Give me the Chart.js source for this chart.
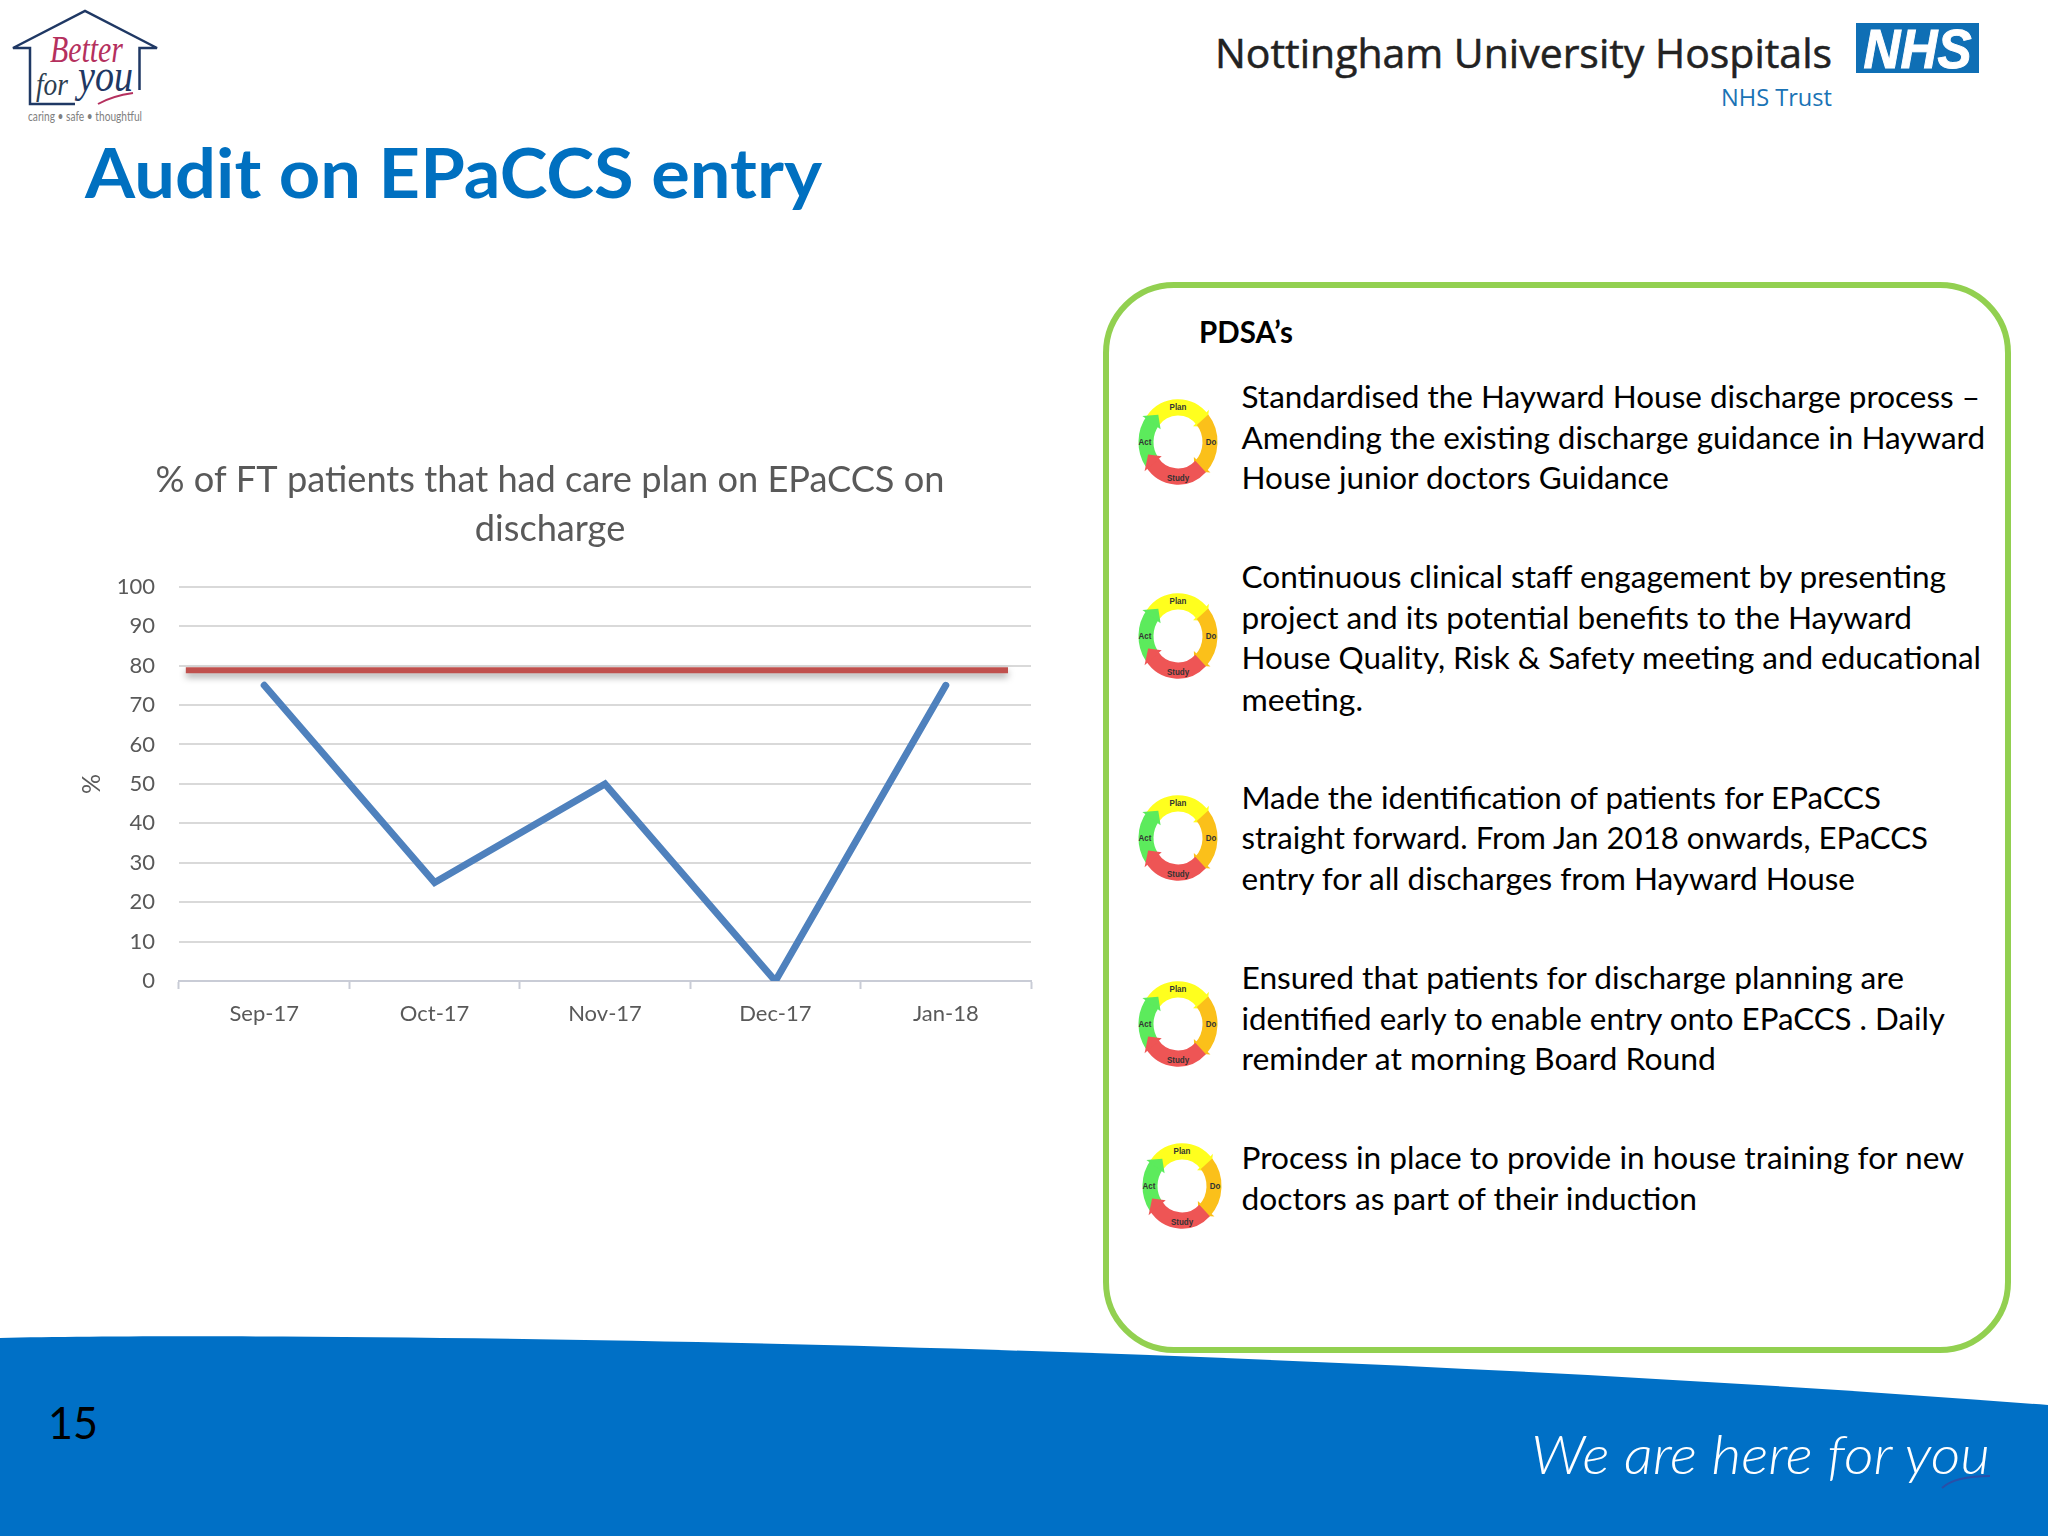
<!DOCTYPE html>
<html>
<head>
<meta charset="utf-8">
<title>Audit on EPaCCS entry</title>
<script src="https://cdn.jsdelivr.net/npm/chart.js@4"></script>
<style>
  html, body { margin: 0; padding: 0; background: #fff; }
  #slide { position: relative; width: 2048px; height: 1536px; overflow: hidden; background: #fff; }
  #art { position: absolute; left: 0; top: 0; }
  #chartBox { position: absolute; left: 60px; top: 440px; width: 989px; height: 640px; }
</style>
</head>
<body>
<div id="slide">
  <svg id="art" width="2048" height="1536" viewBox="0 0 2048 1536" xmlns="http://www.w3.org/2000/svg">
    <!-- footer band -->
    <path d="M0,1338 C300,1332 1200,1340 2048,1405 L2048,1536 L0,1536 Z" fill="#0070C6"/>
    <!-- PDSA panel -->
    <rect x="1106" y="285" width="902" height="1065" rx="68" ry="68" fill="none" stroke="#92D050" stroke-width="6"/>
    <!-- better for you logo -->
    <g fill="none" stroke="#1F3864" stroke-width="2.5">
      <path d="M139.5,90 L139.5,48 L157,48 L85,11 L13,48 L30,48 L30,104 L75,104"/>
    </g>
    <path d="M98,104 Q112,96 133,93" fill="none" stroke="#B5305E" stroke-width="2"/>
    <g font-family="'Liberation Serif'" font-style="italic">
      <text x="50" y="62" font-size="38" fill="#B5305E" textLength="73" lengthAdjust="spacingAndGlyphs">Better</text>
      <text x="36" y="95" font-size="31" fill="#2C3E50" textLength="32" lengthAdjust="spacingAndGlyphs">for</text>
      <text x="78" y="91" font-size="46" fill="#1F3864" textLength="55" lengthAdjust="spacingAndGlyphs">you</text>
    </g>
    <text x="28" y="121" font-family="Lato" font-size="13" fill="#808080" textLength="114" lengthAdjust="spacingAndGlyphs">caring • safe • thoughtful</text>
    <!-- trust logo -->
    <text x="1215" y="68" font-family="'Open Sans'" font-size="40" fill="#222" stroke="#222" stroke-width="0.5" textLength="617" lengthAdjust="spacingAndGlyphs">Nottingham University Hospitals</text>
    <rect x="1856" y="23" width="123" height="50" fill="#0F6FB5"/>
    <text x="1917.5" y="68" font-family="'Liberation Sans'" font-weight="bold" font-style="italic" font-size="55" fill="#fff" stroke="#fff" stroke-width="1" text-anchor="middle" textLength="108" lengthAdjust="spacingAndGlyphs">NHS</text>
    <text x="1721" y="106" font-family="'Open Sans'" font-size="23" fill="#1A73B5" textLength="111" lengthAdjust="spacingAndGlyphs">NHS Trust</text>
    <!-- slide title and footer -->
    <text x="85" y="198" font-family="Lato" font-weight="bold" font-size="69" fill="#0070C0" textLength="737" lengthAdjust="spacingAndGlyphs">Audit on EPaCCS entry</text>
    <text x="48" y="1439" font-family="Lato" font-size="45" fill="#000" textLength="50" lengthAdjust="spacingAndGlyphs">15</text>
    <text x="1531" y="1474" font-family="Lato" font-weight="300" font-style="italic" font-size="54" fill="#fff" textLength="459" lengthAdjust="spacingAndGlyphs">We are here for you</text>
    <path d="M1942,1488 Q1955,1476 1990,1476" fill="none" stroke="#2A4FA8" stroke-width="2"/>
    <text x="1199" y="343" font-family="Lato" font-weight="bold" font-size="31" fill="#000" textLength="94" lengthAdjust="spacingAndGlyphs">PDSA’s</text>
    <g id="panelText" font-family="Lato" font-size="31" fill="#000"></g>
    <g id="icons"></g>
  </svg>
  <div id="chartBox"><canvas id="auditChart" width="989" height="640"></canvas></div>
</div>
<script>
// chart data
const months = ['Sep-17', 'Oct-17', 'Nov-17', 'Dec-17', 'Jan-18'];
const carePlanPct = [75, 25, 50, 0, 75];
const targetPct = [78.8, 78.8];
const targetSpan = [-0.46, 4.365]; // in category units, line was drawn a bit short of the plot edges
const titleLines = ['% of FT patients that had care plan on EPaCCS on', 'discharge'];

// panel text: text, baseline, right edge
const panelLines = [
    ['Standardised the Hayward House discharge process –', 408, 1980],
    ['Amending the existing discharge guidance in Hayward', 449, 1985],
    ['House junior doctors Guidance', 489, 1669],
    ['Continuous clinical staff engagement by presenting', 588, 1946],
    ['project and its potential benefits to the Hayward', 629, 1912],
    ['House Quality, Risk & Safety meeting and educational', 669, 1981],
    ['meeting.', 711, 1363],
    ['Made the identification of patients for EPaCCS', 809, 1881],
    ['straight forward. From Jan 2018 onwards, EPaCCS', 849, 1928],
    ['entry for all discharges from Hayward House', 890, 1855],
    ['Ensured that patients for discharge planning are', 989, 1904],
    ['identified early to enable entry onto EPaCCS . Daily', 1030, 1945],
    ['reminder at morning Board Round', 1070, 1716],
    ['Process in place to provide in house training for new', 1169, 1964],
    ['doctors as part of their induction', 1210, 1697]
];
const iconCentres = [[1178, 442], [1178, 636], [1178, 838], [1178, 1024], [1182, 1186]];
const cycleParts = [
    { label: 'Plan', from: -52, to: 50, color: '#FFFF1E', lx: 0, ly: -30 },
    { label: 'Do', from: 50, to: 135, color: '#FBC01A', lx: 33, ly: 3 },
    { label: 'Act', from: 235, to: 308, color: '#5CEB5C', lx: -33, ly: 3 },
    { label: 'Study', from: 135, to: 235, color: '#EE5555', lx: 0, ly: 36 }
];

const svgNs = 'http://www.w3.org/2000/svg';
function svgEl(name, attrs, parent) {
    const el = document.createElementNS(svgNs, name);
    Object.keys(attrs).forEach(k => el.setAttribute(k, attrs[k]));
    parent.appendChild(el);
    return el;
}

const panelText = document.getElementById('panelText');
panelLines.forEach(([text, y, right]) => {
    const t = svgEl('text', { x: 1241.5, y: y, textLength: right - 1241.5, lengthAdjust: 'spacingAndGlyphs' }, panelText);
    t.textContent = text;
});

// PDSA cycle icons
function polar(r, deg) {
    const a = deg * Math.PI / 180;
    return [r * Math.sin(a), -r * Math.cos(a)];
}
const icons = document.getElementById('icons');
iconCentres.forEach(([cx, cy]) => {
    const g = svgEl('g', { transform: `translate(${cx},${cy}) scale(1,1.08)` }, icons);
    cycleParts.forEach(part => {
        const a = polar(32, part.from), b = polar(32, part.to);
        svgEl('path', {
            d: `M${a[0]},${a[1]} A32,32 0 0 1 ${b[0]},${b[1]}`,
            fill: 'none', stroke: part.color, 'stroke-width': 15
        }, g);
        const p1 = polar(21, part.to - 4), p2 = polar(43, part.to - 4), tip = polar(32, part.to + 14);
        svgEl('polygon', { points: `${p1} ${p2} ${tip}`, fill: part.color }, g);
        const t = svgEl('text', {
            x: part.lx, y: part.ly, 'text-anchor': 'middle',
            'font-family': 'Liberation Sans', 'font-weight': 'bold', 'font-size': 8, fill: '#333'
        }, g);
        t.textContent = part.label;
    });
});

// soft shadow under the target line
const targetShadow = {
    id: 'targetShadow',
    beforeDatasetDraw(chart, args) {
        if (args.index === 1) {
            chart.ctx.save();
            chart.ctx.shadowColor = 'rgba(0, 0, 0, 0.35)';
            chart.ctx.shadowBlur = 7;
            chart.ctx.shadowOffsetY = 4;
        }
    },
    afterDatasetDraw(chart, args) {
        if (args.index === 1) chart.ctx.restore();
    }
};

const textGrey = '#595959';
new Chart(document.getElementById('auditChart').getContext('2d'), {
    type: 'line',
    data: {
        labels: months,
        datasets: [
            {
                label: 'Care plan on EPaCCS',
                data: carePlanPct,
                borderColor: '#4F81BD',
                borderWidth: 7,
                borderCapStyle: 'round',
                pointRadius: 0,
                tension: 0
            },
            {
                label: 'Target',
                data: targetSpan.map((x, i) => ({ x: x, y: targetPct[i] })),
                xAxisID: 'xTarget',
                borderColor: '#C0504D',
                borderWidth: 6,
                pointRadius: 0
            }
        ]
    },
    plugins: [targetShadow],
    options: {
        responsive: false,
        animation: false,
        plugins: {
            legend: { display: false },
            tooltip: { enabled: false },
            title: {
                display: true,
                text: titleLines,
                color: textGrey,
                font: { family: 'Lato', size: 36.2, weight: 'normal', lineHeight: 1.35 },
                padding: { top: 16, bottom: 33 }
            }
        },
        layout: { padding: { left: 9, right: 18 } },
        scales: {
            x: {
                offset: true,
                afterFit(scale) { scale.height = 99; },
                border: { color: '#C9CCD6', width: 2 },
                grid: { offset: true, drawOnChartArea: false, tickLength: 8, tickColor: '#C9CCD6', tickWidth: 2 },
                ticks: { color: textGrey, font: { family: 'Lato', size: 22 }, padding: 12, maxRotation: 0 }
            },
            xTarget: { type: 'linear', display: false, min: -0.5, max: 4.5 },
            y: {
                min: 0,
                max: 100,
                afterFit(scale) { scale.width = 110; },
                border: { display: false },
                grid: { color: '#D9D9D9', lineWidth: 2, drawTicks: false },
                ticks: { stepSize: 10, color: textGrey, font: { family: 'Lato', size: 22 }, padding: 24 },
                title: {
                    display: true,
                    text: '%',
                    color: textGrey,
                    font: { family: 'Lato', size: 25 },
                    padding: { top: 8, bottom: 0 }
                }
            }
        }
    }
});
</script>
</body>
</html>
